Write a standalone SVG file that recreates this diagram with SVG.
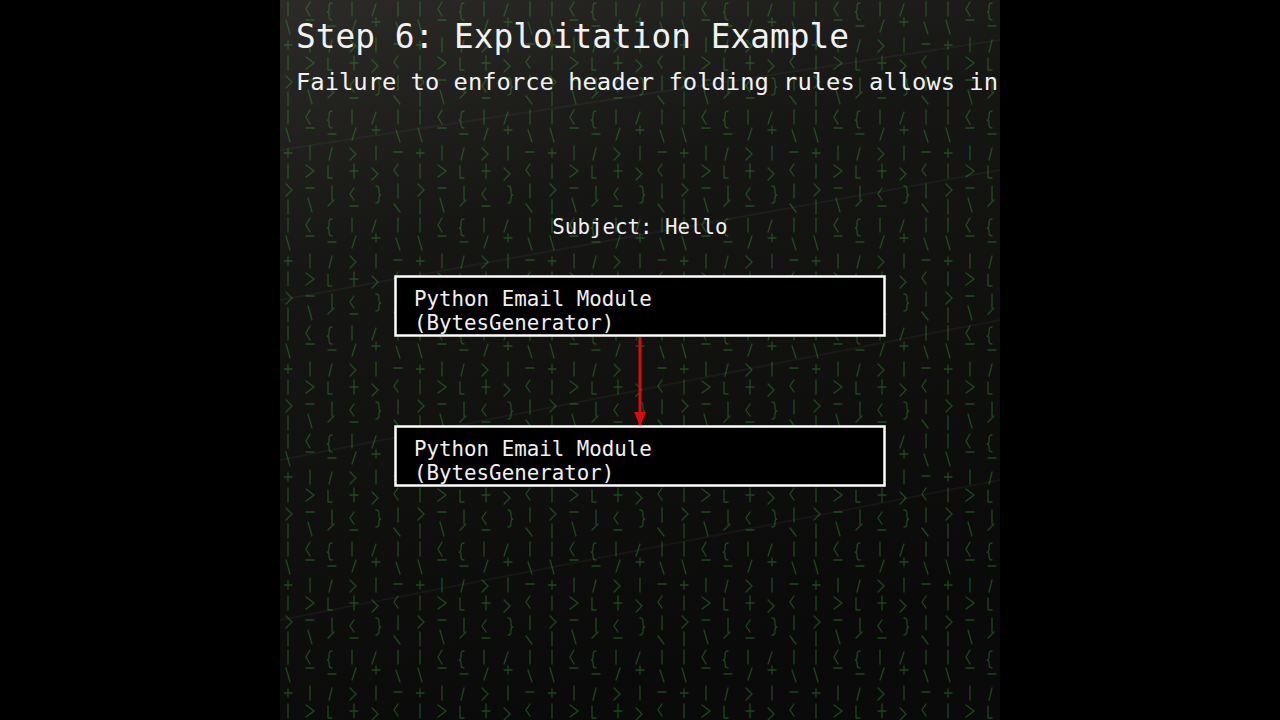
<svg xmlns="http://www.w3.org/2000/svg" width="1280" height="720" viewBox="0 0 1280 720">
<defs>
<style>
.title{font-family:"DejaVu Sans Mono","Liberation Mono",monospace;fill:#f2f2f2}
.lbl{font-family:"DejaVu Sans Mono","Liberation Mono",monospace;font-size:20.8px;fill:#f0f0f0}
.box{fill:#000;stroke:#fff;stroke-width:2.5}
.conn{stroke:#dd0a0a;stroke-width:3;fill:none}
.g{stroke:#2f9a2f;stroke-width:1.3;fill:none;stroke-linecap:round}
</style>
<linearGradient id="bg" x1="0" y1="0" x2="0.3" y2="1">
<stop offset="0" stop-color="#2c2b28"/>
<stop offset="0.35" stop-color="#161614"/>
<stop offset="1" stop-color="#0a0a0a"/>
</linearGradient>
<pattern id="mx" x="284" y="0" width="132" height="108" patternUnits="userSpaceOnUse">
<g class="g" opacity="0.42">
<path d="M4 2v14M2 20l4 14M0 45h8M4 41v8M4 56v14M2 76l6 6-6 6M4 92v14"/>
<path d="M26 2l-4 7 4 7M22 20h8M26 38v14M22 57l8 6-8 6M22 80h8M24 90l4 14"/>
<path d="M48 3c-3 0-3 2-3 6s-2 3-2 3c0 0 2 0 2 3s0 5 3 5M44 26h8M48 40l-3 12M44 58v12M44 70h4M48 78v14M44 98l6-6"/>
<path d="M68 2v14M72 20l-4 12M66 40l6 6-6 6M70 56v14M66 63h8M70 80l-4 6 4 6M66 98h8"/>
<path d="M92 4l-4 12M88 22h8M92 18v8M92 38v14M88 60l6 6-6 6M92 78c3 0 3 2 3 6s2 3 2 3c0 0-2 0-2 3s0 5-3 5"/>
<path d="M114 2v14M112 22l4 12M110 44h8M114 56l-4 6 4 6M114 76v14M110 96l6 8"/>
</g>
</pattern>
<marker id="ah" viewBox="0 0 14 12" refX="13" refY="6" markerWidth="14" markerHeight="12" markerUnits="userSpaceOnUse" orient="auto">
<path d="M0 0L14 6L0 12Z" fill="#dd0a0a"/>
</marker>
<clipPath id="panel"><rect x="280" y="0" width="720" height="720"/></clipPath>
</defs>
<rect width="1280" height="720" fill="#000"/>
<g clip-path="url(#panel)">
<rect x="280" y="0" width="720" height="720" fill="url(#bg)"/>
<rect x="280" y="0" width="720" height="720" fill="url(#mx)"/>
<g stroke="#ffffff" stroke-opacity="0.04" stroke-width="2">
<path d="M280 150L1000 40M280 300L1000 170M280 460L1000 320M280 620L1000 480"/>
</g>
<text class="title" x="296" y="48" font-size="32.8">Step 6: Exploitation Example</text>
<text class="title" x="296" y="90" font-size="23.8">Failure to enforce header folding rules allows in</text>
</g>
<text class="lbl" x="640" y="234" text-anchor="middle">Subject: Hello</text>
<g id="node1">
<rect class="box" x="395.5" y="276.5" width="489" height="59"/>
<text class="lbl" x="414" y="306">Python Email Module</text>
<text class="lbl" x="414" y="330">(BytesGenerator)</text>
</g>
<g id="node2">
<rect class="box" x="395.5" y="426.5" width="489" height="59"/>
<text class="lbl" x="414" y="456">Python Email Module</text>
<text class="lbl" x="414" y="480">(BytesGenerator)</text>
</g>
<g id="connectors">
<line class="conn" x1="640" y1="337" x2="640" y2="425" marker-end="url(#ah)"/>
</g>
</svg>
